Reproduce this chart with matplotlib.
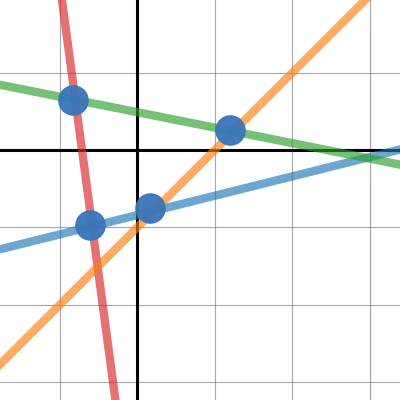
import numpy as np
import matplotlib.pyplot as plt

# lines y = m*x + b
slopes = [-7.5, 0.25, 1.0, -0.2]
intercepts = [-5.34, -0.84, -1.0, 0.49]
colors = ['tab:red', 'tab:blue', 'tab:orange', 'tab:green']

pts_x = [-0.83, 1.2, -0.61, 0.17]
pts_y = [0.65, 0.26, -0.97, -0.75]

xmin, xmax = -1.77, 3.39
ymin, ymax = -3.23, 1.94

fig = plt.figure(figsize=(4, 4), dpi=100)
ax = fig.add_axes([0, 0, 1, 1])
ax.set_xlim(xmin, xmax)
ax.set_ylim(ymin, ymax)

for g in range(-1, 4):
    ax.axvline(g, color='grey', lw=0.8, alpha=0.7, zorder=0)
for g in range(-3, 2):
    ax.axhline(g, color='grey', lw=0.8, alpha=0.7, zorder=0)
ax.axvline(0, color='black', lw=2.2, zorder=1)
ax.axhline(0, color='black', lw=2.2, zorder=1)

xs = np.array([xmin, xmax])
for m, b, c in zip(slopes, intercepts, colors):
    ax.plot(xs, m * xs + b, color=c, lw=6, alpha=0.65, zorder=2)

ax.plot(pts_x, pts_y, 'o', color='#3a75b8', ms=21, alpha=0.95, zorder=3)
ax.set_xticks([])
ax.set_yticks([])
for s in ax.spines.values():
    s.set_visible(False)

fig.savefig('out.png')
